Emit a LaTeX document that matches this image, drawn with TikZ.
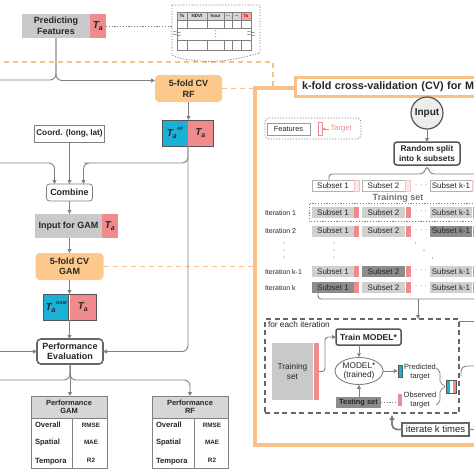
\documentclass[tikz,border=0pt]{standalone}
\usepackage{fontspec}
\setmainfont{Liberation Sans}
\usetikzlibrary{arrows.meta,shapes.geometric,calc}
\definecolor{lg}{HTML}{808080}
\definecolor{bdk}{HTML}{555555}
\definecolor{boxg}{HTML}{C9C9C9}
\definecolor{tared}{HTML}{F08A8C}
\definecolor{cyanb}{HTML}{19B2D6}
\definecolor{orf}{HTML}{FCC88C}
\definecolor{orb}{HTML}{F9C08A}
\definecolor{darkg}{HTML}{8C8C8C}
\definecolor{subl}{HTML}{D0D0D0}
\definecolor{txt}{HTML}{262626}
\definecolor{hdrc}{HTML}{D6D6D6}
\definecolor{tapk}{HTML}{F2A6A6}
\definecolor{lpink}{HTML}{F4C4C6}
\newcommand\myfs[2]{\fontsize{#1}{#2}\selectfont}
\newcommand\myTa{\bfseries\itshape T\textsubscript{a}}
\newcommand\myTsup[1]{\bfseries\itshape T\textsubscript{a}\raisebox{1.2ex}{\myfs{4.5}{5}#1}}
\begin{document}
\begin{tikzpicture}[x=1pt,y=-1pt,
 sz/.style 2 args={minimum width=#1pt,minimum height=#2pt},
 bx/.style={inner sep=0pt,outer sep=0pt,align=center,text=txt},
 ln/.style={draw=lg,line width=0.9pt},
 arr/.style={ln,-{Triangle[length=3.8pt,width=3.8pt]}},
 dotl/.style={draw=lg,line width=0.8pt,dash pattern=on 1.2pt off 1.6pt},
 dsh/.style={draw=orb,line width=1.3pt,dash pattern=on 5pt off 4pt},
 gbox/.style={bx,fill=boxg,font=\myfs{9}{10.5}\bfseries},
 rbox/.style={bx,fill=tared,font=\myfs{10}{11}},
 cbox/.style={bx,fill=cyanb,font=\myfs{10}{11}},
 obox/.style={bx,fill=orf,rounded corners=4pt,font=\myfs{9}{10.5}\bfseries},
 wbox/.style={bx,fill=white,draw=lg,line width=0.8pt},
 kbox/.style={bx,fill=white,draw=bdk,line width=1.5pt,rounded corners=3pt},
 tbl/.style={draw=lg,line width=0.5pt},
 hdt/.style={bx,font=\myfs{4.5}{5}\bfseries},
 thd/.style={bx,fill=hdrc,draw=lg,line width=0.8pt,font=\myfs{7.5}{8.5}\bfseries},
 tl/.style={bx,anchor=west,font=\myfs{7.6}{8.5}\bfseries},
 tr/.style={bx,font=\myfs{6.3}{7}\bfseries},
 sub/.style={bx,sz={42}{11},font=\myfs{8}{9}},
 bar/.style={bx,sz={5}{11},fill=tared},
 itl/.style={bx,anchor=west,font=\myfs{7}{8}},
 tiny/.style={bx,font=\myfs{7.5}{8.3}}
]
\useasboundingbox (0,0) rectangle (474,474);
\clip (0,0) rectangle (474,474);

% ---------- orange frame and dashed links ----------
\draw[dsh] (-5,62) -- (273,62) -- (273,88);
\draw[draw=orb,line width=3.5pt,line join=miter] (490,88) -- (255,88) -- (255,445) -- (490,445);
\node[bx,anchor=west,fill=white,draw=orb,line width=3pt,sz={200}{19},text width=186pt,inner xsep=6pt,align=left,font=\myfs{10.8}{12}\bfseries] (ttl) at (295,86.5) {k-fold cross-validation (CV) for M};

% ---------- top left ----------
\node[gbox,sz={68}{24}] (pf) at (56,26) {Predicting\\Features};
\node[rbox,sz={16}{24}] (pft) at (98,26) {\myTa};
\coordinate (tblc) at (172,26);
\draw[dotl] (pft.east) -- (tblc);

% inset table
\draw[dotl] (172,5) -- (260,5) -- (260,53) .. controls (242,58) and (220,63) .. (200,61) .. controls (186,60) and (176,58) .. (172,55) -- cycle;
\fill[hdrc] (177,12) rectangle (241,20);
\fill[tapk] (241,12) rectangle (251,20);
\draw[tbl] (177,12) rectangle (251,28) (177,20) -- (251,20);
\foreach \x in {187,207,224,232,241} {\draw[tbl] (\x,12) -- (\x,28) (\x,40) -- (\x,50);}
\draw[tbl] (177,40) rectangle (251,50) (177,28) -- (177,40) (251,28) -- (251,40);
\draw[tbl] (173,32) .. controls (175,30) and (178,34) .. (181,32) (173,35) .. controls (175,33) and (178,37) .. (181,35);
\draw[tbl] (247,32) .. controls (249,30) and (252,34) .. (255,32) (247,35) .. controls (249,33) and (252,37) .. (255,35);
\foreach \yy in {30.5,33.5,36.5} {\fill[lg] (215.5,\yy) circle (0.5);}
\node[hdt] (h1) at (182,16) {Ts};
\node[hdt] (h2) at (197,16) {NDVI};
\node[hdt] (h3) at (215.5,16) {hour};
\node[hdt] (h4) at (228,16) {...};
\node[hdt] (h5) at (236.5,16) {...};
\node[hdt,text=red!80!black] (h6) at (246,16) {Ta};

% ---------- RF branch ----------
\node[obox,sz={67}{27}] (rf) at (188.5,88.5) {5-fold CV\\RF};
\draw[ln,rounded corners=6pt] (pf.south) |- (-5,80);
\draw[arr,rounded corners=6pt] (pf.south) |- ([yshift=8pt]rf.west);
\draw[dsh] (rf.east) -- (255,88.5);

\node[cbox,sz={26}{26}] (tarf) at (175,133) {\myTsup{RF}};
\node[rbox,sz={25}{26}] (tarfr) at (200.5,133) {\myTa};
\draw[draw=bdk,line width=0.6pt] (tarf.north west) rectangle (tarfr.south east);
\draw[arr] (rf.south) -- (rf.south |- tarf.north);

% ---------- GAM branch ----------
\node[wbox,sz={70}{17},font=\myfs{8.2}{9}\bfseries] (coord) at (69.5,133.5) {Coord. (long, lat)};
\node[wbox,draw=lg,rounded corners=3pt,sz={46}{17},font=\myfs{9}{10}\bfseries] (comb) at (69.5,192.5) {Combine};
\draw[arr] (coord.south) -- (coord.south |- comb.north);
\draw[arr,rounded corners=6pt] (-5,163) -| ([xshift=-15pt]comb.north);
\draw[arr,rounded corners=6pt] (tarfr.south west) |- (90,163) -| ([xshift=14pt]comb.north);

\node[gbox,sz={67}{24}] (ig) at (68.5,226) {Input for GAM};
\node[rbox,sz={16}{24}] (igt) at (110,226) {\myTa};
\draw[arr] (comb.south) -- (comb.south |- ig.north);

\node[obox,sz={68}{27}] (gam) at (69.5,266.5) {5-fold CV\\GAM};
\draw[arr] (comb.south |- ig.south) -- (comb.south |- gam.north);
\draw[dsh] (gam.east) -- (255,266.5);

\node[cbox,sz={25.5}{26}] (tag) at (56,307) {\myTsup{GAM}};
\node[rbox,sz={27}{26}] (tagr) at (83,307) {\myTa};
\draw[draw=bdk,line width=0.6pt] (tag.north west) rectangle (tag.south east);
\draw[draw=bdk,line width=0.6pt] (tagr.north west) rectangle (tagr.south east);
\draw[white,line width=1pt] (69.2,294.5) -- (69.2,319.5);
\draw[arr] (gam.south) -- (gam.south |- tag.north);

\node[kbox,draw=bdk!90,line width=1.6pt,rounded corners=4pt,sz={66}{25},font=\myfs{9}{10.5}\bfseries] (pe) at (70,351.5) {Performance\\Evaluation};
\draw[arr] (gam.south |- tag.south) -- (gam.south |- pe.north);
\draw[arr] (-5,351.5) -- (pe.west);
\draw[arr,rounded corners=6pt] (tarfr.south west) |- (pe.east);

% ---------- performance tables ----------
\node[thd,sz={76}{22}] (pgam) at (69,407) {Performance\\GAM};
\draw[tbl,line width=0.8pt] (pgam.south west) rectangle ++(76,50);
\draw[tbl,line width=0.8pt] ($(pgam.south west)+(41,0)$) -- ++(0,50);
\node[tl] (g1) at (35,425) {Overall};
\node[tl] (g2) at (35,442.5) {Spatial};
\node[tl] (g3) at (35,461.5) {Tempora};
\node[tr] (g4) at (91,425) {RMSE};
\node[tr] (g5) at (91,442.5) {MAE};
\node[tr] (g6) at (91,460.5) {R2};

\node[thd,sz={76}{22}] (prf) at (190,407) {Performance\\RF};
\draw[tbl,line width=0.8pt] (prf.south west) rectangle ++(76,50);
\draw[tbl,line width=0.8pt] ($(prf.south west)+(42,0)$) -- ++(0,50);
\node[tl] (f1) at (156,425) {Overall};
\node[tl] (f2) at (156,442.5) {Spatial};
\node[tl] (f3) at (156,461.5) {Tempora};
\node[tr] (f4) at (212,425) {RMSE};
\node[tr] (f5) at (212,442.5) {MAE};
\node[tr] (f6) at (212,460.5) {R2};

\draw[ln,rounded corners=6pt] (pe.south) |- (-5,380);
\draw[arr] (pe.south) -- (pe.south |- pgam.north);
\draw[arr,rounded corners=6pt] (pe.south) |- ([yshift=16pt]prf.north) -- (prf.north);

% ---------- k-fold panel ----------
\node[bx,draw=lg,line width=0.8pt,dash pattern=on 1.2pt off 1.6pt,rounded corners=4pt,sz={96}{21}] (leg) at (313,128.5) {};
\node[wbox,draw=lg!80,sz={43}{12},font=\myfs{7.4}{8}] (lf) at (288.5,129) {Features};
\node[bx,draw=tared,fill=white,line width=0.8pt,sz={4}{13}] (ltr) at (320,129) {};
\draw[draw=tared,line width=0.8pt,-{Triangle[length=3pt,width=3pt]}] (329,129) -- (ltr.east);
\node[bx,anchor=west,text=tared,font=\myfs{7.6}{8}] (ltt) at (330.5,129) {Target};

\node[circle,draw=bdk,line width=1.2pt,fill=black!7,minimum size=32pt,inner sep=0pt,text=txt,font=\myfs{10}{11}\bfseries] (inp) at (427,113) {Input};
\node[kbox,sz={66}{23},font=\myfs{8.3}{9.5}\bfseries] (rs) at (427,153.5) {Random split\\into k subsets};
\draw[arr] (inp.south) -- (rs.north);
\draw[ln,rounded corners=3pt] (329,180) |- (423,174) -- ([yshift=-1pt]rs.south) -- (431,174) -- (490,174);

% row 0
\node[sub,fill=white,draw=black!30,line width=0.6pt,sz={42}{11.5}] (r0a) at (333,186) {Subset 1};
\node[bar,fill=lpink!40,draw=lpink,line width=0.6pt] (r0ab) at (356.5,186) {};
\node[sub,fill=white,draw=black!30,line width=0.6pt,sz={43}{11.5}] (r0b) at (383.5,186) {Subset 2};
\node[bar,fill=lpink!40,draw=lpink,line width=0.6pt] (r0bb) at (408,186) {};
\node[bx,text=lg,font=\myfs{8}{9}] (r0d) at (421,186) {· · ·};
\node[sub,fill=white,draw=black!30,line width=0.6pt,sz={42}{11.5}] (r0c) at (451,186) {Subset k-1};
\node[bar,fill=lpink!40,draw=lpink,line width=0.6pt] (r0cb) at (475,186) {};
\node[bx,text=black!55,font=\myfs{9}{10}\bfseries] (tsl) at (398,198) {Training set};
\draw[dotl,line width=0.9pt] (490,203) -- (309,203) -- (309,221.5) -- (490,221.5);

\foreach \yy/\fa/\fb/\fc/\lab/\n in {212.5/subl/subl/subl/Iteration 1/1, 231/subl/subl/darkg/Iteration 2/2, 271.5/subl/darkg/subl/Iteration k-1/3, 287.5/darkg/subl/subl/Iteration k/4}{
  \node[itl] (it\n) at (265,\yy) {\lab};
  \node[sub,fill=\fa] (r\n-a) at (333,\yy) {Subset 1};
  \node[bar] (r\n-ab) at (356.5,\yy) {};
  \node[sub,fill=\fb,sz={43}{11}] (r\n-b) at (383.5,\yy) {Subset 2};
  \node[bar] (r\n-bb) at (408,\yy) {};
  \node[bx,text=lg,font=\myfs{8}{9}] (r\n-d) at (421,\yy) {· · ·};
  \node[sub,fill=\fc] (r\n-c) at (451,\yy) {Subset k-1};
  \node[bar] (r\n-cb) at (475,\yy) {};
}
\foreach \p in {(284,243),(284,250),(284,257),(334,243),(334,250),(334,257),(415.5,243),(424,250.5),(432.5,258)} {\fill[lg] \p circle (0.6);}

% for each iteration
\node[bx,draw=black!60,line width=1.6pt,dash pattern=on 5pt off 3.5pt,sz={194}{94}] (fe) at (362,366) {};
\node[bx,anchor=west,font=\myfs{8.3}{9}] (fel) at (268,324.5) {for each iteration};
\draw[ln,rounded corners=3pt] (318,292) |- (490,299);
\coordinate (bk) at (418,299);
\draw[arr] (bk) -- ([xshift=56pt]fe.north);

\node[bx,fill=boxg,sz={41}{57},font=\myfs{8.3}{9.5}] (ts) at (292.5,371.5) {Training\\set};
\node[bar,sz={5}{57}] (tsb) at (316.5,371.5) {};
\node[kbox,sz={65}{16},rounded corners=2pt,font=\myfs{8.5}{9}\bfseries] (tm) at (368.5,337) {Train MODEL*};
\draw[arr,rounded corners=3pt] (tsb.east) -- ++(6,0) |- (tm.west);
\node[ellipse,draw=lg,line width=0.9pt,fill=white,minimum width=48pt,minimum height=27pt,inner sep=0pt,align=center,text=txt,font=\myfs{8.3}{9.5}] (me) at (359,371) {MODEL*\\(trained)};
\draw[arr] (me.north |- tm.south) -- (me.north);
\node[bx,fill=darkg,sz={45}{11},font=\myfs{7.4}{8}\bfseries] (tst) at (358.5,402.5) {Testing set};
\draw[arr] (me.south |- tst.north) -- (me.south);

\node[bx,fill=cyanb,draw=bdk,line width=0.5pt,sz={4.5}{12}] (pb) at (400,371) {};
\node[bx,fill=tared,sz={4.5}{12}] (ob) at (400,399.5) {};
\draw[arr] (me.east) -- (pb.west);
\draw[dotl] (tst.east) -- (tst.east -| ob.west);
\node[tiny] (pt) at (420,372) {Predicted\\target};
\node[tiny] (ot) at (420,400) {Observed\\target};

\fill[cyanb] (446,380) rectangle (449.5,393);
\fill[tared] (452.5,380) rectangle (456,393);
\node[bx,draw=bdk,line width=0.7pt,sz={10}{13}] (cb) at (451,386.5) {};
\draw[ln,line width=0.7pt,rounded corners=2pt] (436,368) -- (440,371) -- (440,383) -- (cb.west) -- (440,390) -- (440,402) -- (436,405);

\draw[ln,rounded corners=5pt] ([xshift=2pt,yshift=-10pt]fe.east) |- (490,366);
\draw[ln] ([yshift=-2pt]fe.north east) -- (490,321);

\node[bx,fill=white,draw=black!60,line width=1.3pt,sz={67}{13},font=\myfs{9.5}{10}] (ik) at (435.5,429.5) {iterate k times};
\draw[ln,line width=1.8pt,rounded corners=5pt,-{Triangle[length=5pt,width=5pt]}] (ik.west) -| ([xshift=30pt,yshift=-2pt]fe.south);
\draw[ln] (ik.east) -- (490,429.5);
\end{tikzpicture}
\end{document}
